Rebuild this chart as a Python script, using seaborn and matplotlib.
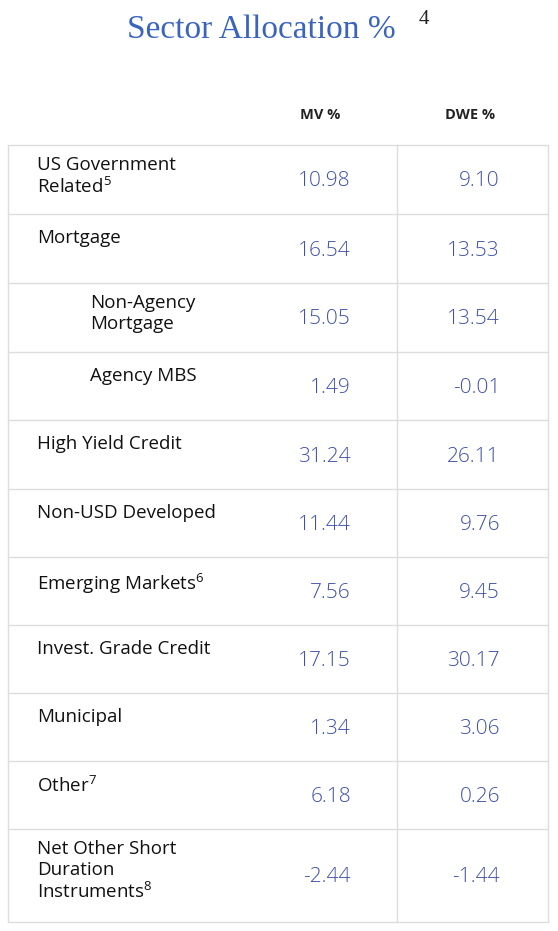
import matplotlib
matplotlib.use("Agg")
import matplotlib.pyplot as plt
import seaborn as sns

sns.set_style("white")
plt.rcParams['font.family'] = ['Open Sans', 'DejaVu Sans']
plt.rcParams['mathtext.default'] = 'regular'

labels = ["US Government\nRelated$^{5}$", "Mortgage", "Non-Agency\nMortgage", "Agency MBS",
          "High Yield Credit", "Non-USD Developed", "Emerging Markets$^{6}$",
          "Invest. Grade Credit", "Municipal", "Other$^{7}$",
          "Net Other Short\nDuration\nInstruments$^{8}$"]
indent = [False, False, True, True, False, False, False, False, False, False, False]
mv = ["10.98", "16.54", "15.05", "1.49", "31.24", "11.44", "7.56", "17.15", "1.34", "6.18", "-2.44"]
dwe = ["9.10", "13.53", "13.54", "-0.01", "26.11", "9.76", "9.45", "30.17", "3.06", "0.26", "-1.44"]
headers = ["MV %", "DWE %"]
row_tops = [145, 214, 283, 352, 420, 489, 557, 625, 693, 761, 829, 922]

fig = plt.figure(figsize=(5.58, 9.31), dpi=100)
ax = fig.add_axes([0, 0, 1, 1])
ax.set_xlim(0, 558); ax.set_ylim(931, 0); ax.axis('off')

vcol = "#3f51a9"
ax.text(127, 30, "Sector Allocation %", family=["Liberation Serif", "DejaVu Serif"], fontsize=24,
        color="#3a64c0", ha="left", va="center")
ax.text(424, 20, "4", family=["Liberation Serif", "DejaVu Serif"], fontsize=15, color="#222",
        ha="center", va="center")
ax.text(320, 115, headers[0], fontsize=10.5, fontweight="bold", ha="center", va="center", color="#222")
ax.text(470, 115, headers[1], fontsize=10.5, fontweight="bold", ha="center", va="center", color="#222")

lc = "#dddddd"
for y in row_tops:
    ax.plot([8, 548], [y, y], color=lc, lw=1)
ax.plot([8, 8], [145, 922], color=lc, lw=1)
ax.plot([548, 548], [145, 922], color=lc, lw=1)
ax.plot([397, 397], [145, 922], color=lc, lw=1)

for i, lab in enumerate(labels):
    top, bot = row_tops[i], row_tops[i + 1]
    x = 90 if indent[i] else 37
    nl = lab.count("\n") + 1
    ty = top + 11 if nl > 1 else top + 15
    ax.text(x, ty, lab, fontsize=13.5, va="top", ha="left", color="#111", linespacing=1.2)
    cy = (top + bot) / 2 + 2
    ax.text(351, cy, mv[i], fontsize=15, ha="right", va="center", color=vcol, fontweight="light")
    ax.text(500, cy, dwe[i], fontsize=15, ha="right", va="center", color=vcol, fontweight="light")

fig.savefig("out.png", dpi=100)
